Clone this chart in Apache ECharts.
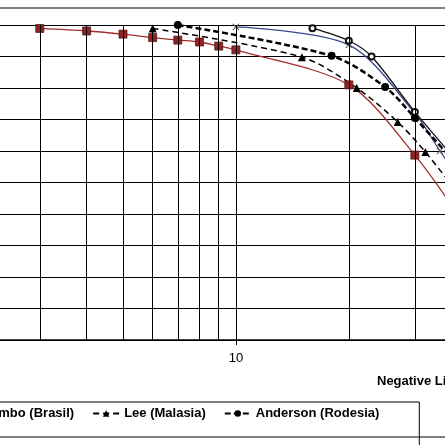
<!DOCTYPE html>
<html><head><meta charset="utf-8">
<script src="https://cdn.jsdelivr.net/npm/echarts@6/dist/echarts.min.js"></script>
<style>html,body{margin:0;padding:0;background:#fff}#c{width:445px;height:445px}</style>
</head><body><div id="c"></div>
<script>
// current (kA) and cumulative probability (%) per survey
var cigreX = [3, 4, 5, 6, 7, 8, 9, 10, 20, 30, 40];
var cigreY = [98.9, 98.1, 97.1, 96, 95.2, 94.6, 93.3, 92.1, 81, 58.7, 38];
var leeX = [6, 15, 21, 27, 32, 40];
var leeY = [98.9, 89.8, 80, 69.2, 59.7, 45];
var andX = [7, 18, 25, 30, 40];
var andY = [100, 90.2, 80.3, 70.5, 54];
var blueX = [10, 20, 30, 35, 40];
var blueY = [99.4, 93.7, 72, 60, 50];
var brasX = [16, 20, 23, 30, 40];
var brasY = [99, 95, 90, 72.4, 55];
var gridX = [3, 4, 5, 6, 7, 8, 9, 10, 20, 30];

function pairs(xs, ys) {
  return xs.map(function (x, i) { return [x, ys[i]]; });
}

var chart = echarts.init(document.getElementById('c'));
var crossPath = 'path://M0,1L1,0L5,4L9,0L10,1L6,5L10,9L9,10L5,6L1,10L0,9L4,5Z';

chart.setOption({
  animation: false,
  backgroundColor: '#fff',
  textStyle: { fontFamily: 'Arial, Liberation Sans, sans-serif' },
  title: {
    text: 'Negative Lightning Peak Current (kA)',
    left: 372, top: 370,
    textStyle: { fontSize: 13, fontWeight: 'bold', color: '#000' }
  },
  grid: { left: 0, right: 0, top: 25, bottom: 105 },
  legend: {
    left: -262, top: 402,
    padding: [5, 40, 5, 10],
    borderColor: '#000', borderWidth: 1,
    itemWidth: 26, itemHeight: 8, itemGap: 18,
    textStyle: { fontSize: 13, fontWeight: 'bold', color: '#000' },
    data: ['Popolansky', 'Morro do Cachimbo (Brasil)', 'Lee (Malasia)', 'Anderson (Rodesia)', 'CIGRE']
  },
  graphic: [
    { type: 'line', shape: { x1: 0, y1: 8, x2: 445, y2: 8 }, style: { stroke: '#000', lineWidth: 1 } },
    { type: 'line', shape: { x1: 0, y1: 437, x2: 445, y2: 437 }, style: { stroke: '#000', lineWidth: 1 } }
  ],
  xAxis: {
    type: 'log', logBase: 10, min: 2.35, max: 36.1,
    axisLine: { lineStyle: { color: '#000', width: 1.5 } },
    axisTick: { show: true, length: 5, lineStyle: { color: '#000' } },
    axisLabel: {
      color: '#000', fontSize: 13, margin: 12,
      showMinLabel: false, showMaxLabel: false,
      formatter: function (v) { return Math.abs(v - 10) < 0.01 ? '10' : ''; }
    },
    splitLine: { show: false }
  },
  yAxis: {
    type: 'value', min: 0, max: 100, interval: 10,
    axisLabel: { show: false }, axisLine: { show: false }, axisTick: { show: false },
    splitLine: { lineStyle: { color: '#000', width: 1 } }
  },
  series: [
    {
      name: 'grid', type: 'line', data: [], silent: true,
      markLine: {
        symbol: 'none', silent: true, label: { show: false },
        lineStyle: { color: '#000', width: 1, type: 'solid' },
        data: gridX.map(function (x) { return { xAxis: x }; })
      }
    },
    {
      name: 'Popolansky', type: 'line', smooth: 0.3, data: pairs(blueX, blueY),
      symbol: crossPath, symbolSize: 7,
      lineStyle: { color: '#3a4690', width: 1.3 }, itemStyle: { color: '#555' }
    },
    {
      name: 'Morro do Cachimbo (Brasil)', type: 'line', smooth: 0.3, data: pairs(brasX, brasY),
      symbol: 'emptyCircle', symbolSize: 6,
      lineStyle: { color: '#111', width: 1.3 }, itemStyle: { color: '#111', borderWidth: 1 }
    },
    {
      name: 'Lee (Malasia)', type: 'line', smooth: 0.3, data: pairs(leeX, leeY),
      symbol: 'triangle', symbolSize: 8,
      lineStyle: { color: '#000', width: 1.5, type: [6, 4] }, itemStyle: { color: '#000' }
    },
    {
      name: 'Anderson (Rodesia)', type: 'line', smooth: 0.3, data: pairs(andX, andY),
      symbol: 'circle', symbolSize: 8,
      lineStyle: { color: '#000', width: 2.5, type: [6, 3] }, itemStyle: { color: '#000' }
    },
    {
      name: 'CIGRE', type: 'line', smooth: 0.3, data: pairs(cigreX, cigreY),
      symbol: 'rect', symbolSize: 8,
      lineStyle: { color: '#a0302e', width: 1.3 },
      itemStyle: { color: '#8e2424', borderColor: '#5a1a1a', borderWidth: 0.8 }
    }
  ]
});
</script>
</body></html>
